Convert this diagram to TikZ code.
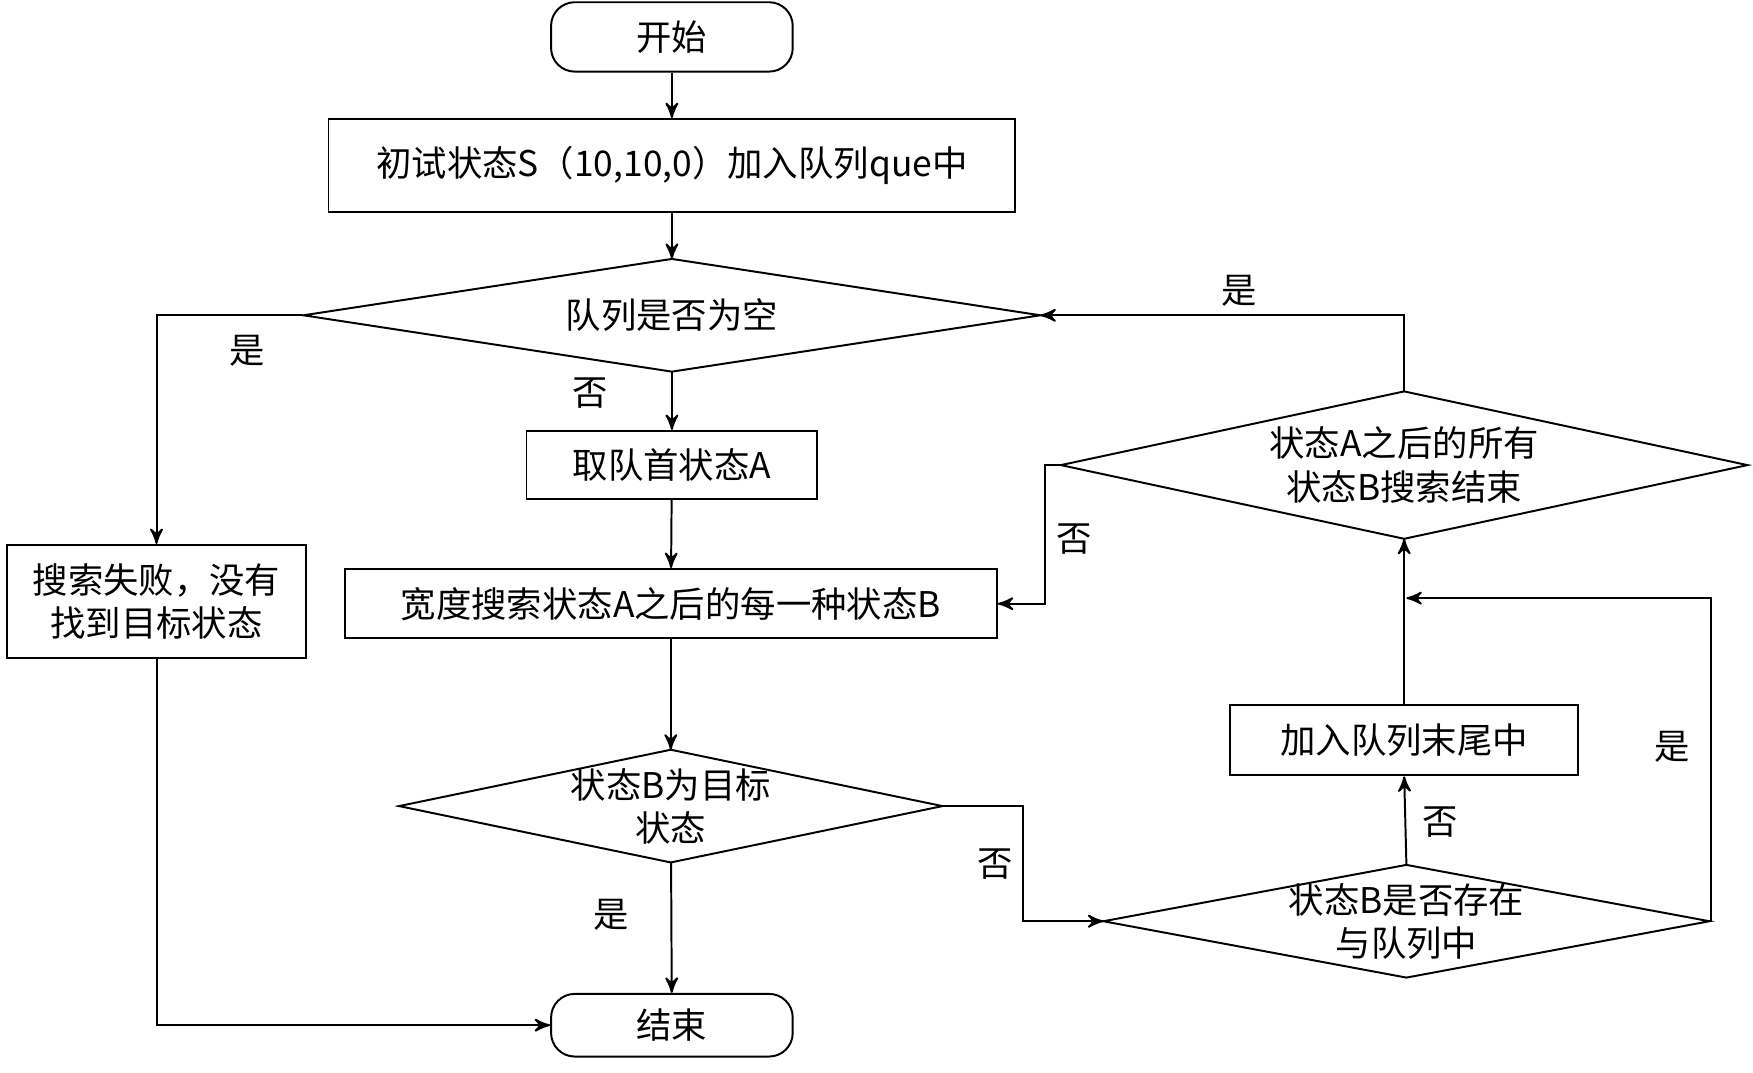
\documentclass[tikz,border=0pt]{standalone}
\usepackage{fontspec}
\setmainfont{Noto Sans CJK SC}
\usetikzlibrary{arrows,shapes,positioning}
\tikzset{
	box/.style = {rectangle, draw=black, align=center, inner sep=0pt, font=\fontsize{9}{11}\selectfont},
	startend/.style = {box, rounded corners=6pt},
	decision/.style = {rectangle, align=center, inner sep=0pt, font=\fontsize{9}{11}\selectfont},
	lbl/.style = {font=\fontsize{9}{11}\selectfont}
}

\begin{document}
\begin{tikzpicture}[->,>=stealth', x=0.01cm, y=-0.01cm, line width=0.5pt]
	\useasboundingbox (0,0) rectangle (1568,959);
	\node [startend, minimum width=2.16cm, minimum height=0.62cm] (start) at (601,33) {开始};
	\node [box, minimum width=6.14cm, minimum height=0.83cm] (init) at (601,148) {初试状态S（10,10,0）加入队列que中};
	\node [decision, minimum width=6.57cm, minimum height=0.99cm] (empty) at (601,282) {队列是否为空};
	\node [box, minimum width=2.6cm, minimum height=0.61cm] (head) at (601,416) {取队首状态A};
	\node [box, minimum width=5.83cm, minimum height=0.62cm] (bfs) at (600,540) {宽度搜索状态A之后的每一种状态B};
	\node [decision, minimum width=4.84cm, minimum height=0.99cm] (goal) at (600,721) {状态B为目标\\状态};
	\node [startend, minimum width=2.16cm, minimum height=0.56cm] (end) at (601,917) {结束};
	\node [box, minimum width=2.67cm, minimum height=1.01cm] (fail) at (140,538) {搜索失败，没有\\找到目标状态};
	\node [decision, minimum width=6.12cm, minimum height=1.3cm] (done) at (1256,416) {状态A之后的所有\\状态B搜索结束};
	\node [box, minimum width=3.11cm, minimum height=0.63cm] (push) at (1256,662) {加入队列末尾中};
	\node [decision, minimum width=5.4cm, minimum height=0.99cm] (exist) at (1258,824) {状态B是否存在\\与队列中};
	\coordinate (back) at (1258,535);
	% diamond outlines
	\foreach \n in {empty,goal,done,exist}
		\draw [-] (\n.west) -- (\n.north) -- (\n.east) -- (\n.south) -- cycle;

	\draw (start) -- (init);
	\draw (init) -- (empty);
	\draw (empty) -- (head);
	\draw (head) -- (bfs);
	\draw (bfs) -- (goal);
	\draw (goal) -- (end);
	\draw (empty.west) -| (fail.north);
	\draw (fail.south) |- (end.west);
	\draw (goal.east) -- (915,721) |- (exist.west);
	\draw (exist.north) -- (push.south);
	\draw (push.north) -- (done.south);
	\draw (exist.east) -- (1530,824) |- (back);
	\draw (done.west) -- (935,416) |- (bfs.east);
	\draw (done.north) |- (empty.east);

	\node [lbl] at (528,352) {否};
	\node [lbl] at (547,818) {是};
	\node [lbl] at (221,314) {是};
	\node [lbl] at (890,773) {否};
	\node [lbl] at (1288,735) {否};
	\node [lbl] at (1496,668) {是};
	\node [lbl] at (961,482) {否};
	\node [lbl] at (1108,260) {是};
\end{tikzpicture}
\end{document}
